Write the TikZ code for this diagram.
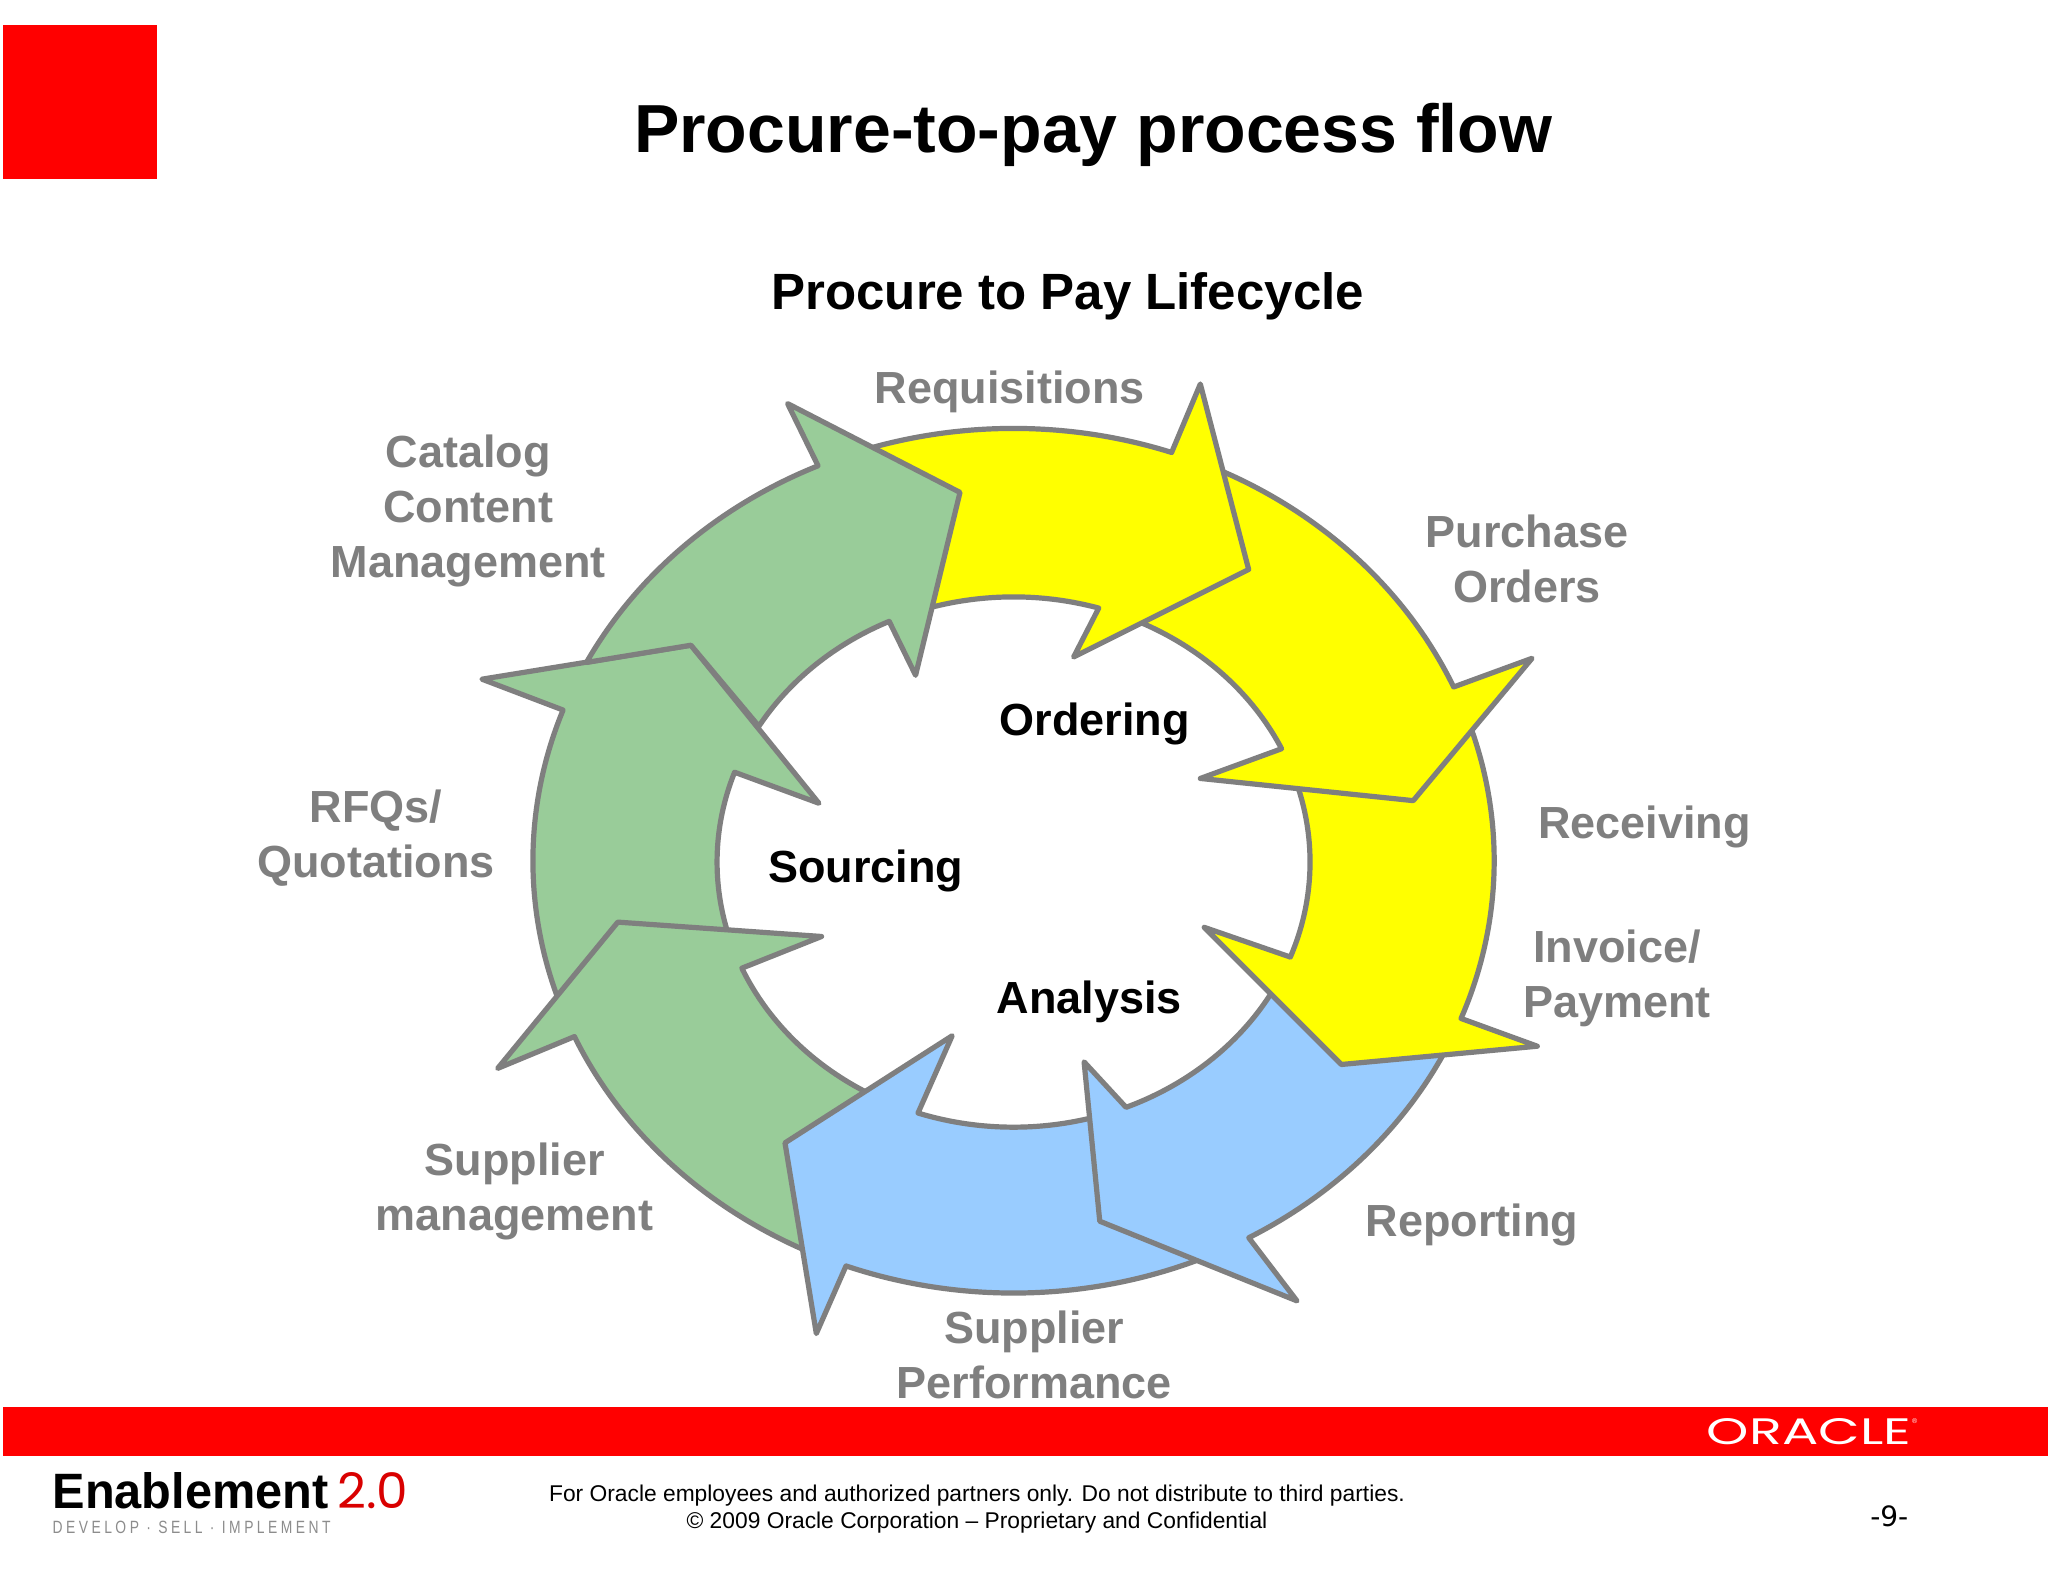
\documentclass[tikz,border=0pt]{standalone}
\usepackage{fontspec}
\usepackage{graphicx}
\setmainfont{Liberation Sans}
\newfontfamily\pagefont{DejaVu Sans}
\newfontfamily\logofont{Poppins}
\newcommand{\fs}[1]{\fontsize{#1}{#1}\selectfont}
\definecolor{lineg}{HTML}{7F7F7F}
\definecolor{oyellow}{HTML}{FFFF00}
\definecolor{ogreen}{HTML}{99CC99}
\definecolor{oblue}{HTML}{99CCFF}
\definecolor{ored}{HTML}{FF0000}
\tikzset{
  seg/.style={draw=lineg,line width=2.6pt,line join=round},
  lbl/.style={font=\fs{22.5pt}\bfseries,text=lineg,align=center,inner sep=0pt},
  inlbl/.style={font=\fs{22.5pt}\bfseries,text=black,align=center,inner sep=0pt},
  foot/.style={font=\fs{11.4pt},text=black,align=center,inner sep=0pt},
}
% style, tail outer t, head outer t, barb, tip, barb, head inner t, tail inner t, closing points
\newcommand{\segm}[9]{%
  \path[#1] ($(776,659)+(#2:368 and 331)$) arc[start angle=#2,end angle=#3,x radius=368,y radius=331]
    -- #4 -- #5 -- #6
    -- ($(776,660)+(#7:227 and 203)$) arc[start angle=#7,end angle=#8,x radius=227,y radius=203] #9 -- cycle;}
\usetikzlibrary{calc}
\begin{document}
\begin{tikzpicture}[x=0.6531pt,y=-0.6531pt]
\useasboundingbox (0,0) rectangle (1568,1211.3);
\fill[white] (0,0) rectangle (1568,1211.3);
\fill[ored] (2,19) rectangle (120,137);
\fill[ored] (2,1077) rectangle (1568,1115);
\node[inner sep=0pt,font=\fs{34pt}\bfseries] (title) at (837,103.5) {Procure-to-pay process flow};
\node[inner sep=0pt,font=\fs{25.5pt}\bfseries] (sub) at (817.5,227) {Procure to Pay Lifecycle};
% ring segments, bottom to top
\segm{seg,fill=ogreen}{158}{200.4}{(369,520)}{(529,494)}{(627,615)}{199.8}{158}{}
\segm{seg,fill=ogreen}{113}{156}{(381,818)}{(473,706)}{(629,717)}{156.4}{116}{}
\segm{seg,fill=oblue}{62}{110.4}{(625,1021)}{(601,875)}{(729,793)}{108.8}{70}{}
\segm{seg,fill=oblue}{24}{60.7}{(993,996)}{(842,935)}{(830,813)}{67.7}{24}{}
\segm{seg,fill=oyellow}{-22}{21.4}{(1177,801)}{(1027,815)}{(922,710)}{21}{-22}{}
\segm{seg,fill=oyellow}{-70}{-23.7}{(1173,504)}{(1082,613)}{(919,596)}{-25.3}{-70}{}
\segm{seg,fill=oyellow}{-112}{-70.8}{(919,294)}{(956,436)}{(822,503)}{-73.3}{-112}{}
\segm{seg,fill=ogreen}{207.3}{246}{(603,309)}{(735,377)}{(701,517)}{245.2}{210.8}{-- (529,494)}
% outer labels
\node[lbl] (req) at (773,300) {Requisitions};
\node[lbl,text width=300] (cat) at (358.5,391) {Catalog\\[5pt]Content\\[5pt]Management};
\node[lbl] (po) at (1169,428) {Purchase\\[5pt]Orders};
\node[lbl] (rec) at (1259,633) {Receiving};
\node[lbl] (inv) at (1238,749) {Invoice/\\[5pt]Payment};
\node[lbl] (rep) at (1127,938) {Reporting};
\node[lbl] (sp) at (792,1037) {Supplier\\[5pt]Performance};
\node[lbl] (sm) at (394,912) {Supplier\\[5pt]management};
\node[lbl] (rfq) at (288,642) {RFQs/\\[5pt]Quotations};
% inner labels
\node[inlbl] (ord) at (838,554) {Ordering};
\node[inlbl] (src) at (663,667) {Sourcing};
\node[inlbl] (ana) at (834,767) {Analysis};
% footer
\node[foot] (f1) at (748,1145) {For Oracle employees and authorized partners only. Do not distribute to third parties.};
\node[foot] (f2) at (748,1166) {© 2009 Oracle Corporation – Proprietary and Confidential};
\node[inner sep=0pt,font=\pagefont\fs{14pt}] (pg) at (1446.5,1161) {-9-};
% logos
\node[inner sep=0pt,text=white] (ora) at (1385,1096) {\resizebox{102pt}{13pt}{\logofont ORACLE}};
\node[inner sep=0pt,text=white,font=\fs{3.5pt}] (orar) at (1466,1088) {®};
\node[inner sep=0pt,anchor=west] (ena) at (40,1141) {\resizebox{138pt}{18pt}{\bfseries Enablement}};
\node[inner sep=0pt,anchor=west,text=ored!85!black] (two) at (258,1141) {\resizebox{35.5pt}{18pt}{\logofont 2.0}};
\node[inner sep=0pt,anchor=west,text=black!45] (dev) at (40,1169.5) {\resizebox{139pt}{6.2pt}{\addfontfeatures{LetterSpace=25}DEVELOP · SELL · IMPLEMENT}};
\end{tikzpicture}
\end{document}
